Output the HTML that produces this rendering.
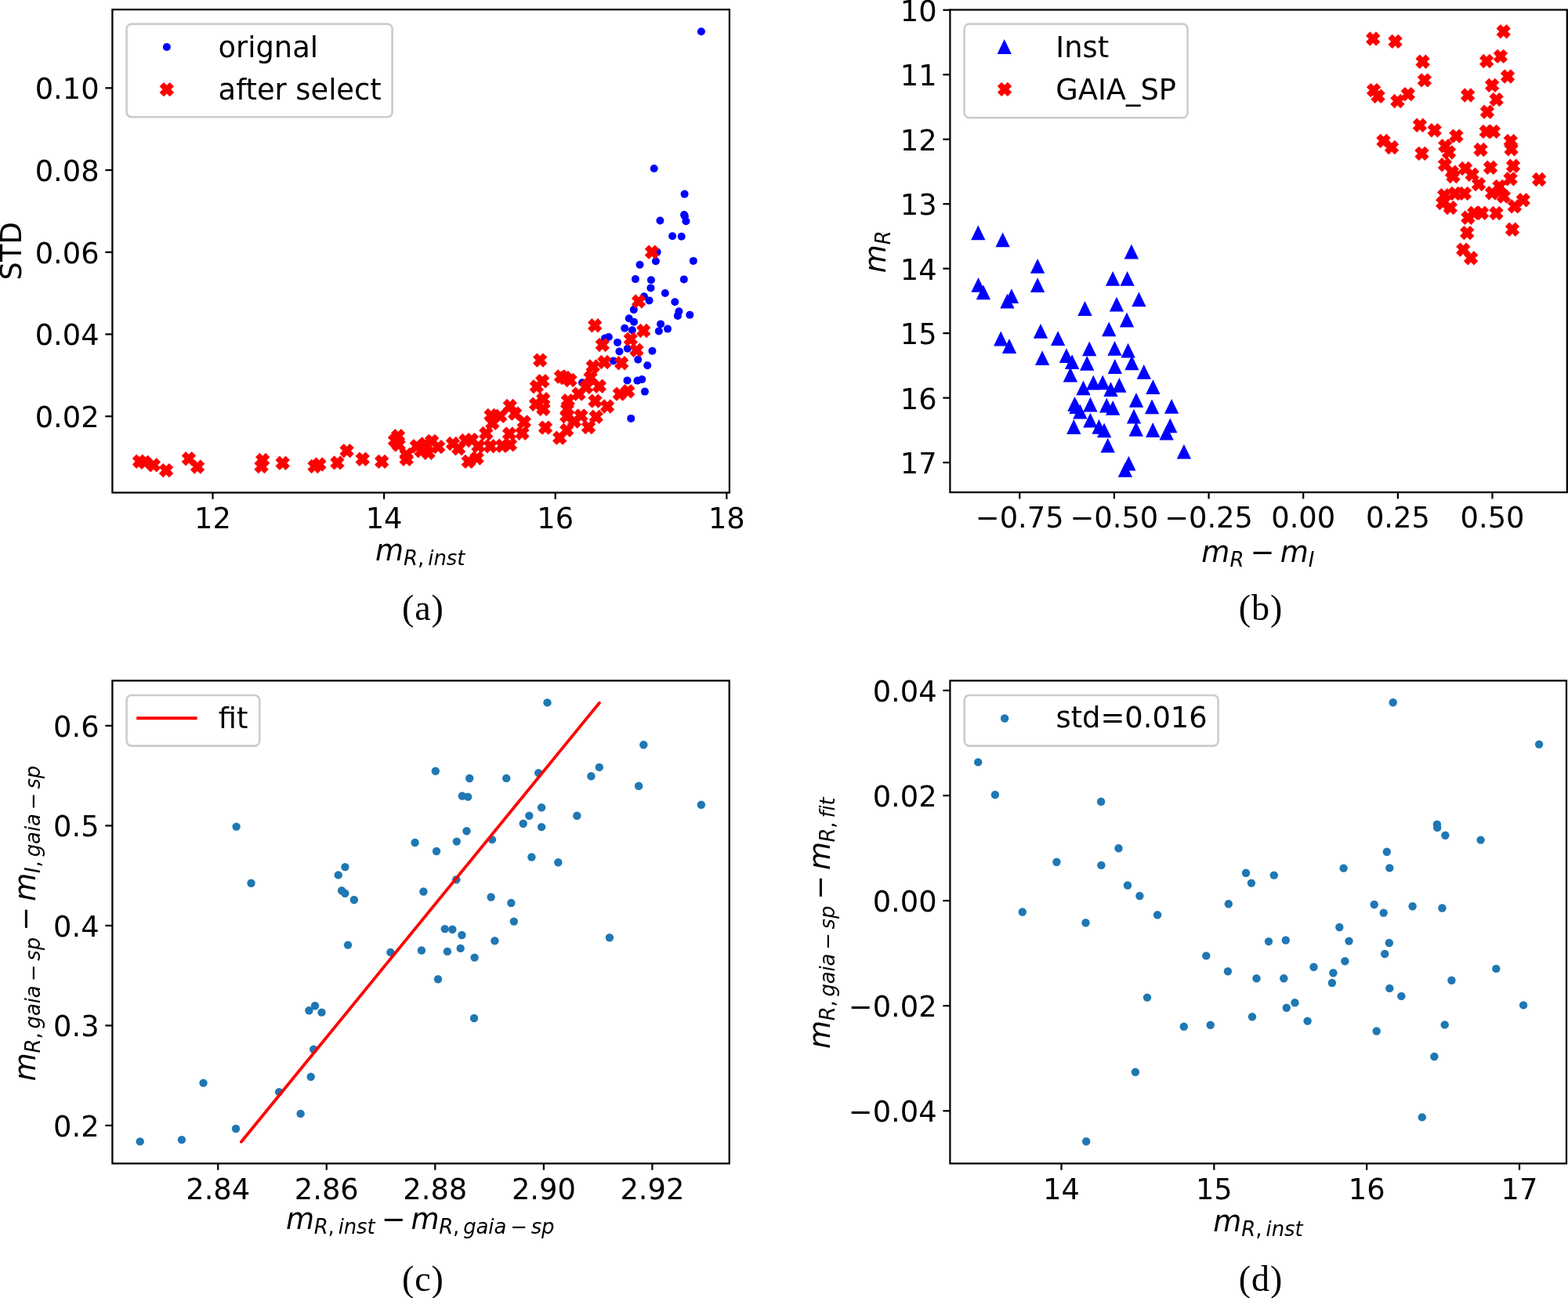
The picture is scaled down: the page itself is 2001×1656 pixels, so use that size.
<!DOCTYPE html>
<html><head><meta charset="utf-8"><title>figure</title>
<style>html,body{margin:0;padding:0;background:#fff}svg{display:block}</style></head>
<body><svg xmlns="http://www.w3.org/2000/svg" width="2001" height="1656" viewBox="0 0 2001 1656">
<rect x="0" y="0" width="2001" height="1656" fill="#fff"/>
<circle cx="894.90" cy="40.20" r="5.0" fill="#0000ff"/><circle cx="834.70" cy="215.00" r="5.0" fill="#0000ff"/><circle cx="873.60" cy="247.60" r="5.0" fill="#0000ff"/><circle cx="873.10" cy="274.00" r="5.0" fill="#0000ff"/><circle cx="873.90" cy="275.70" r="5.0" fill="#0000ff"/><circle cx="875.40" cy="282.20" r="5.0" fill="#0000ff"/><circle cx="842.40" cy="281.50" r="5.0" fill="#0000ff"/><circle cx="858.10" cy="301.20" r="5.0" fill="#0000ff"/><circle cx="869.70" cy="301.70" r="5.0" fill="#0000ff"/><circle cx="838.60" cy="321.60" r="5.0" fill="#0000ff"/><circle cx="836.90" cy="333.20" r="5.0" fill="#0000ff"/><circle cx="884.80" cy="332.90" r="5.0" fill="#0000ff"/><circle cx="816.50" cy="337.70" r="5.0" fill="#0000ff"/><circle cx="810.90" cy="356.10" r="5.0" fill="#0000ff"/><circle cx="830.90" cy="357.20" r="5.0" fill="#0000ff"/><circle cx="872.80" cy="356.40" r="5.0" fill="#0000ff"/><circle cx="830.40" cy="367.40" r="5.0" fill="#0000ff"/><circle cx="848.80" cy="374.00" r="5.0" fill="#0000ff"/><circle cx="821.90" cy="378.20" r="5.0" fill="#0000ff"/><circle cx="828.50" cy="383.40" r="5.0" fill="#0000ff"/><circle cx="861.30" cy="385.20" r="5.0" fill="#0000ff"/><circle cx="808.80" cy="395.10" r="5.0" fill="#0000ff"/><circle cx="866.40" cy="397.30" r="5.0" fill="#0000ff"/><circle cx="864.90" cy="402.90" r="5.0" fill="#0000ff"/><circle cx="880.30" cy="401.80" r="5.0" fill="#0000ff"/><circle cx="802.70" cy="406.30" r="5.0" fill="#0000ff"/><circle cx="809.00" cy="410.70" r="5.0" fill="#0000ff"/><circle cx="843.10" cy="413.40" r="5.0" fill="#0000ff"/><circle cx="797.20" cy="418.80" r="5.0" fill="#0000ff"/><circle cx="806.80" cy="421.20" r="5.0" fill="#0000ff"/><circle cx="840.80" cy="422.40" r="5.0" fill="#0000ff"/><circle cx="852.00" cy="419.60" r="5.0" fill="#0000ff"/><circle cx="776.80" cy="430.00" r="5.0" fill="#0000ff"/><circle cx="772.00" cy="431.60" r="5.0" fill="#0000ff"/><circle cx="788.00" cy="436.90" r="5.0" fill="#0000ff"/><circle cx="790.40" cy="448.40" r="5.0" fill="#0000ff"/><circle cx="800.80" cy="444.80" r="5.0" fill="#0000ff"/><circle cx="832.40" cy="447.80" r="5.0" fill="#0000ff"/><circle cx="814.20" cy="458.80" r="5.0" fill="#0000ff"/><circle cx="826.20" cy="466.20" r="5.0" fill="#0000ff"/><circle cx="782.80" cy="460.40" r="5.0" fill="#0000ff"/><circle cx="800.50" cy="485.40" r="5.0" fill="#0000ff"/><circle cx="813.40" cy="485.60" r="5.0" fill="#0000ff"/><circle cx="819.20" cy="484.00" r="5.0" fill="#0000ff"/><circle cx="822.90" cy="499.60" r="5.0" fill="#0000ff"/><circle cx="743.00" cy="488.30" r="5.0" fill="#0000ff"/><circle cx="805.20" cy="533.90" r="5.0" fill="#0000ff"/>
<path fill="#ff0000" d="M181.82 579.51 L187.19 584.88 L183.37 588.70 L187.19 592.52 L181.82 597.89 L178.00 594.07 L174.18 597.89 L168.81 592.52 L172.63 588.70 L168.81 584.88 L174.18 579.51 L178.00 583.33ZM188.62 580.71 L193.99 586.08 L190.17 589.90 L193.99 593.72 L188.62 599.09 L184.80 595.27 L180.98 599.09 L175.61 593.72 L179.43 589.90 L175.61 586.08 L180.98 580.71 L184.80 584.53ZM199.72 584.11 L205.09 589.48 L201.27 593.30 L205.09 597.12 L199.72 602.49 L195.90 598.67 L192.08 602.49 L186.71 597.12 L190.53 593.30 L186.71 589.48 L192.08 584.11 L195.90 587.93ZM215.82 590.91 L221.19 596.28 L217.37 600.10 L221.19 603.92 L215.82 609.29 L212.00 605.47 L208.18 609.29 L202.81 603.92 L206.63 600.10 L202.81 596.28 L208.18 590.91 L212.00 594.73ZM244.72 576.01 L250.09 581.38 L246.27 585.20 L250.09 589.02 L244.72 594.39 L240.90 590.57 L237.08 594.39 L231.71 589.02 L235.53 585.20 L231.71 581.38 L237.08 576.01 L240.90 579.83ZM255.82 586.31 L261.19 591.68 L257.37 595.50 L261.19 599.32 L255.82 604.69 L252.00 600.87 L248.18 604.69 L242.81 599.32 L246.63 595.50 L242.81 591.68 L248.18 586.31 L252.00 590.13ZM339.02 577.81 L344.39 583.18 L340.57 587.00 L344.39 590.82 L339.02 596.19 L335.20 592.37 L331.38 596.19 L326.01 590.82 L329.83 587.00 L326.01 583.18 L331.38 577.81 L335.20 581.63ZM337.32 585.81 L342.69 591.18 L338.87 595.00 L342.69 598.82 L337.32 604.19 L333.50 600.37 L329.68 604.19 L324.31 598.82 L328.13 595.00 L324.31 591.18 L329.68 585.81 L333.50 589.63ZM364.52 581.61 L369.89 586.98 L366.07 590.80 L369.89 594.62 L364.52 599.99 L360.70 596.17 L356.88 599.99 L351.51 594.62 L355.33 590.80 L351.51 586.98 L356.88 581.61 L360.70 585.43ZM405.32 585.81 L410.69 591.18 L406.87 595.00 L410.69 598.82 L405.32 604.19 L401.50 600.37 L397.68 604.19 L392.31 598.82 L396.13 595.00 L392.31 591.18 L397.68 585.81 L401.50 589.63ZM411.22 583.31 L416.59 588.68 L412.77 592.50 L416.59 596.32 L411.22 601.69 L407.40 597.87 L403.58 601.69 L398.21 596.32 L402.03 592.50 L398.21 588.68 L403.58 583.31 L407.40 587.13ZM434.22 581.21 L439.59 586.58 L435.77 590.40 L439.59 594.22 L434.22 599.59 L430.40 595.77 L426.58 599.59 L421.21 594.22 L425.03 590.40 L421.21 586.58 L426.58 581.21 L430.40 585.03ZM446.42 565.91 L451.79 571.28 L447.97 575.10 L451.79 578.92 L446.42 584.29 L442.60 580.47 L438.78 584.29 L433.41 578.92 L437.23 575.10 L433.41 571.28 L438.78 565.91 L442.60 569.73ZM466.52 576.51 L471.89 581.88 L468.07 585.70 L471.89 589.52 L466.52 594.89 L462.70 591.07 L458.88 594.89 L453.51 589.52 L457.33 585.70 L453.51 581.88 L458.88 576.51 L462.70 580.33ZM491.02 579.71 L496.39 585.08 L492.57 588.90 L496.39 592.72 L491.02 598.09 L487.20 594.27 L483.38 598.09 L478.01 592.72 L481.83 588.90 L478.01 585.08 L483.38 579.71 L487.20 583.53ZM511.82 547.11 L517.19 552.48 L513.37 556.30 L517.19 560.12 L511.82 565.49 L508.00 561.67 L504.18 565.49 L498.81 560.12 L502.63 556.30 L498.81 552.48 L504.18 547.11 L508.00 550.93ZM507.82 552.81 L513.19 558.18 L509.37 562.00 L513.19 565.82 L507.82 571.19 L504.00 567.37 L500.18 571.19 L494.81 565.82 L498.63 562.00 L494.81 558.18 L500.18 552.81 L504.00 556.63ZM512.42 558.41 L517.79 563.78 L513.97 567.60 L517.79 571.42 L512.42 576.79 L508.60 572.97 L504.78 576.79 L499.41 571.42 L503.23 567.60 L499.41 563.78 L504.78 558.41 L508.60 562.23ZM522.52 570.81 L527.89 576.18 L524.07 580.00 L527.89 583.82 L522.52 589.19 L518.70 585.37 L514.88 589.19 L509.51 583.82 L513.33 580.00 L509.51 576.18 L514.88 570.81 L518.70 574.63ZM522.52 576.61 L527.89 581.98 L524.07 585.80 L527.89 589.62 L522.52 594.99 L518.70 591.17 L514.88 594.99 L509.51 589.62 L513.33 585.80 L509.51 581.98 L514.88 576.61 L518.70 580.43ZM535.52 560.01 L540.89 565.38 L537.07 569.20 L540.89 573.02 L535.52 578.39 L531.70 574.57 L527.88 578.39 L522.51 573.02 L526.33 569.20 L522.51 565.38 L527.88 560.01 L531.70 563.83ZM541.32 566.11 L546.69 571.48 L542.87 575.30 L546.69 579.12 L541.32 584.49 L537.50 580.67 L533.68 584.49 L528.31 579.12 L532.13 575.30 L528.31 571.48 L533.68 566.11 L537.50 569.93ZM546.32 557.31 L551.69 562.68 L547.87 566.50 L551.69 570.32 L546.32 575.69 L542.50 571.87 L538.68 575.69 L533.31 570.32 L537.13 566.50 L533.31 562.68 L538.68 557.31 L542.50 561.13ZM550.42 568.51 L555.79 573.88 L551.97 577.70 L555.79 581.52 L550.42 586.89 L546.60 583.07 L542.78 586.89 L537.41 581.52 L541.23 577.70 L537.41 573.88 L542.78 568.51 L546.60 572.33ZM554.92 553.71 L560.29 559.08 L556.47 562.90 L560.29 566.72 L554.92 572.09 L551.10 568.27 L547.28 572.09 L541.91 566.72 L545.73 562.90 L541.91 559.08 L547.28 553.71 L551.10 557.53ZM563.02 560.91 L568.39 566.28 L564.57 570.10 L568.39 573.92 L563.02 579.29 L559.20 575.47 L555.38 579.29 L550.01 573.92 L553.83 570.10 L550.01 566.28 L555.38 560.91 L559.20 564.73ZM581.82 556.81 L587.19 562.18 L583.37 566.00 L587.19 569.82 L581.82 575.19 L578.00 571.37 L574.18 575.19 L568.81 569.82 L572.63 566.00 L568.81 562.18 L574.18 556.81 L578.00 560.63ZM589.02 563.11 L594.39 568.48 L590.57 572.30 L594.39 576.12 L589.02 581.49 L585.20 577.67 L581.38 581.49 L576.01 576.12 L579.83 572.30 L576.01 568.48 L581.38 563.11 L585.20 566.93ZM598.02 552.81 L603.39 558.18 L599.57 562.00 L603.39 565.82 L598.02 571.19 L594.20 567.37 L590.38 571.19 L585.01 565.82 L588.83 562.00 L585.01 558.18 L590.38 552.81 L594.20 556.63ZM605.72 551.91 L611.09 557.28 L607.27 561.10 L611.09 564.92 L605.72 570.29 L601.90 566.47 L598.08 570.29 L592.71 564.92 L596.53 561.10 L592.71 557.28 L598.08 551.91 L601.90 555.73ZM601.62 579.71 L606.99 585.08 L603.17 588.90 L606.99 592.72 L601.62 598.09 L597.80 594.27 L593.98 598.09 L588.61 592.72 L592.43 588.90 L588.61 585.08 L593.98 579.71 L597.80 583.53ZM612.42 575.31 L617.79 580.68 L613.97 584.50 L617.79 588.32 L612.42 593.69 L608.60 589.87 L604.78 593.69 L599.41 588.32 L603.23 584.50 L599.41 580.68 L604.78 575.31 L608.60 579.13ZM614.22 560.01 L619.59 565.38 L615.77 569.20 L619.59 573.02 L614.22 578.39 L610.40 574.57 L606.58 578.39 L601.21 573.02 L605.03 569.20 L601.21 565.38 L606.58 560.01 L610.40 563.83ZM624.12 543.81 L629.49 549.18 L625.67 553.00 L629.49 556.82 L624.12 562.19 L620.30 558.37 L616.48 562.19 L611.11 556.82 L614.93 553.00 L611.11 549.18 L616.48 543.81 L620.30 547.63ZM632.22 530.71 L637.59 536.08 L633.77 539.90 L637.59 543.72 L632.22 549.09 L628.40 545.27 L624.58 549.09 L619.21 543.72 L623.03 539.90 L619.21 536.08 L624.58 530.71 L628.40 534.53ZM630.42 520.81 L635.79 526.18 L631.97 530.00 L635.79 533.82 L630.42 539.19 L626.60 535.37 L622.78 539.19 L617.41 533.82 L621.23 530.00 L617.41 526.18 L622.78 520.81 L626.60 524.63ZM642.12 521.71 L647.49 527.08 L643.67 530.90 L647.49 534.72 L642.12 540.09 L638.30 536.27 L634.48 540.09 L629.11 534.72 L632.93 530.90 L629.11 527.08 L634.48 521.71 L638.30 525.53ZM654.62 508.81 L659.99 514.18 L656.17 518.00 L659.99 521.82 L654.62 527.19 L650.80 523.37 L646.98 527.19 L641.61 521.82 L645.43 518.00 L641.61 514.18 L646.98 508.81 L650.80 512.63ZM661.02 518.41 L666.39 523.78 L662.57 527.60 L666.39 531.42 L661.02 536.79 L657.20 532.97 L653.38 536.79 L648.01 531.42 L651.83 527.60 L648.01 523.78 L653.38 518.41 L657.20 522.23ZM653.82 544.31 L659.19 549.68 L655.37 553.50 L659.19 557.32 L653.82 562.69 L650.00 558.87 L646.18 562.69 L640.81 557.32 L644.63 553.50 L640.81 549.68 L646.18 544.31 L650.00 548.13ZM629.52 560.01 L634.89 565.38 L631.07 569.20 L634.89 573.02 L629.52 578.39 L625.70 574.57 L621.88 578.39 L616.51 573.02 L620.33 569.20 L616.51 565.38 L621.88 560.01 L625.70 563.83ZM644.82 559.51 L650.19 564.88 L646.37 568.70 L650.19 572.52 L644.82 577.89 L641.00 574.07 L637.18 577.89 L631.81 572.52 L635.63 568.70 L631.81 564.88 L637.18 559.51 L641.00 563.33ZM654.72 558.21 L660.09 563.58 L656.27 567.40 L660.09 571.22 L654.72 576.59 L650.90 572.77 L647.08 576.59 L641.71 571.22 L645.53 567.40 L641.71 563.58 L647.08 558.21 L650.90 562.03ZM670.22 543.51 L675.59 548.88 L671.77 552.70 L675.59 556.52 L670.22 561.89 L666.40 558.07 L662.58 561.89 L657.21 556.52 L661.03 552.70 L657.21 548.88 L662.58 543.51 L666.40 547.33ZM672.62 529.21 L677.99 534.58 L674.17 538.40 L677.99 542.22 L672.62 547.59 L668.80 543.77 L664.98 547.59 L659.61 542.22 L663.43 538.40 L659.61 534.58 L664.98 529.21 L668.80 533.03ZM693.02 450.41 L698.39 455.78 L694.57 459.60 L698.39 463.42 L693.02 468.79 L689.20 464.97 L685.38 468.79 L680.01 463.42 L683.83 459.60 L680.01 455.78 L685.38 450.41 L689.20 454.23ZM696.02 477.01 L701.39 482.38 L697.57 486.20 L701.39 490.02 L696.02 495.39 L692.20 491.57 L688.38 495.39 L683.01 490.02 L686.83 486.20 L683.01 482.38 L688.38 477.01 L692.20 480.83ZM688.62 484.01 L693.99 489.38 L690.17 493.20 L693.99 497.02 L688.62 502.39 L684.80 498.57 L680.98 502.39 L675.61 497.02 L679.43 493.20 L675.61 489.38 L680.98 484.01 L684.80 487.83ZM697.12 500.11 L702.49 505.48 L698.67 509.30 L702.49 513.12 L697.12 518.49 L693.30 514.67 L689.48 518.49 L684.11 513.12 L687.93 509.30 L684.11 505.48 L689.48 500.11 L693.30 503.93ZM687.82 506.51 L693.19 511.88 L689.37 515.70 L693.19 519.52 L687.82 524.89 L684.00 521.07 L680.18 524.89 L674.81 519.52 L678.63 515.70 L674.81 511.88 L680.18 506.51 L684.00 510.33ZM697.22 512.61 L702.59 517.98 L698.77 521.80 L702.59 525.62 L697.22 530.99 L693.40 527.17 L689.58 530.99 L684.21 525.62 L688.03 521.80 L684.21 517.98 L689.58 512.61 L693.40 516.43ZM699.82 536.41 L705.19 541.78 L701.37 545.60 L705.19 549.42 L699.82 554.79 L696.00 550.97 L692.18 554.79 L686.81 549.42 L690.63 545.60 L686.81 541.78 L692.18 536.41 L696.00 540.23ZM719.82 471.31 L725.19 476.68 L721.37 480.50 L725.19 484.32 L719.82 489.69 L716.00 485.87 L712.18 489.69 L706.81 484.32 L710.63 480.50 L706.81 476.68 L712.18 471.31 L716.00 475.13ZM724.82 472.81 L730.19 478.18 L726.37 482.00 L730.19 485.82 L724.82 491.19 L721.00 487.37 L717.18 491.19 L711.81 485.82 L715.63 482.00 L711.81 478.18 L717.18 472.81 L721.00 476.63ZM731.32 475.81 L736.69 481.18 L732.87 485.00 L736.69 488.82 L731.32 494.19 L727.50 490.37 L723.68 494.19 L718.31 488.82 L722.13 485.00 L718.31 481.18 L723.68 475.81 L727.50 479.63ZM742.22 493.41 L747.59 498.78 L743.77 502.60 L747.59 506.42 L742.22 511.79 L738.40 507.97 L734.58 511.79 L729.21 506.42 L733.03 502.60 L729.21 498.78 L734.58 493.41 L738.40 497.23ZM728.62 502.01 L733.99 507.38 L730.17 511.20 L733.99 515.02 L728.62 520.39 L724.80 516.57 L720.98 520.39 L715.61 515.02 L719.43 511.20 L715.61 507.38 L720.98 502.01 L724.80 505.83ZM727.82 512.81 L733.19 518.18 L729.37 522.00 L733.19 525.82 L727.82 531.19 L724.00 527.37 L720.18 531.19 L714.81 525.82 L718.63 522.00 L714.81 518.18 L720.18 512.81 L724.00 516.63ZM727.02 522.01 L732.39 527.38 L728.57 531.20 L732.39 535.02 L727.02 540.39 L723.20 536.57 L719.38 540.39 L714.01 535.02 L717.83 531.20 L714.01 527.38 L719.38 522.01 L723.20 525.83ZM745.22 521.21 L750.59 526.58 L746.77 530.40 L750.59 534.22 L745.22 539.59 L741.40 535.77 L737.58 539.59 L732.21 534.22 L736.03 530.40 L732.21 526.58 L737.58 521.21 L741.40 525.03ZM736.62 528.41 L741.99 533.78 L738.17 537.60 L741.99 541.42 L736.62 546.79 L732.80 542.97 L728.98 546.79 L723.61 541.42 L727.43 537.60 L723.61 533.78 L728.98 528.41 L732.80 532.23ZM764.52 522.61 L769.89 527.98 L766.07 531.80 L769.89 535.62 L764.52 540.99 L760.70 537.17 L756.88 540.99 L751.51 535.62 L755.33 531.80 L751.51 527.98 L756.88 522.61 L760.70 526.43ZM754.82 535.81 L760.19 541.18 L756.37 545.00 L760.19 548.82 L754.82 554.19 L751.00 550.37 L747.18 554.19 L741.81 548.82 L745.63 545.00 L741.81 541.18 L747.18 535.81 L751.00 539.63ZM727.02 539.61 L732.39 544.98 L728.57 548.80 L732.39 552.62 L727.02 557.99 L723.20 554.17 L719.38 557.99 L714.01 552.62 L717.83 548.80 L714.01 544.98 L719.38 539.61 L723.20 543.43ZM718.02 549.41 L723.39 554.78 L719.57 558.60 L723.39 562.42 L718.02 567.79 L714.20 563.97 L710.38 567.79 L705.01 562.42 L708.83 558.60 L705.01 554.78 L710.38 549.41 L714.20 553.23ZM763.02 406.11 L768.39 411.48 L764.57 415.30 L768.39 419.12 L763.02 424.49 L759.20 420.67 L755.38 424.49 L750.01 419.12 L753.83 415.30 L750.01 411.48 L755.38 406.11 L759.20 409.93ZM772.62 430.81 L777.99 436.18 L774.17 440.00 L777.99 443.82 L772.62 449.19 L768.80 445.37 L764.98 449.19 L759.61 443.82 L763.43 440.00 L759.61 436.18 L764.98 430.81 L768.80 434.63ZM775.02 452.81 L780.39 458.18 L776.57 462.00 L780.39 465.82 L775.02 471.19 L771.20 467.37 L767.38 471.19 L762.01 465.82 L765.83 462.00 L762.01 458.18 L767.38 452.81 L771.20 456.63ZM760.52 458.31 L765.89 463.68 L762.07 467.50 L765.89 471.32 L760.52 476.69 L756.70 472.87 L752.88 476.69 L747.51 471.32 L751.33 467.50 L747.51 463.68 L752.88 458.31 L756.70 462.13ZM757.32 472.61 L762.69 477.98 L758.87 481.80 L762.69 485.62 L757.32 490.99 L753.50 487.17 L749.68 490.99 L744.31 485.62 L748.13 481.80 L744.31 477.98 L749.68 472.61 L753.50 476.43ZM768.62 483.61 L773.99 488.98 L770.17 492.80 L773.99 496.62 L768.62 501.99 L764.80 498.17 L760.98 501.99 L755.61 496.62 L759.43 492.80 L755.61 488.98 L760.98 483.61 L764.80 487.43ZM751.82 484.81 L757.19 490.18 L753.37 494.00 L757.19 497.82 L751.82 503.19 L748.00 499.37 L744.18 503.19 L738.81 497.82 L742.63 494.00 L738.81 490.18 L744.18 484.81 L748.00 488.63ZM763.32 502.41 L768.69 507.78 L764.87 511.60 L768.69 515.42 L763.32 520.79 L759.50 516.97 L755.68 520.79 L750.31 515.42 L754.13 511.60 L750.31 507.78 L755.68 502.41 L759.50 506.23ZM778.82 509.31 L784.19 514.68 L780.37 518.50 L784.19 522.32 L778.82 527.69 L775.00 523.87 L771.18 527.69 L765.81 522.32 L769.63 518.50 L765.81 514.68 L771.18 509.31 L775.00 513.13ZM794.62 493.41 L799.99 498.78 L796.17 502.60 L799.99 506.42 L794.62 511.79 L790.80 507.97 L786.98 511.79 L781.61 506.42 L785.43 502.60 L781.61 498.78 L786.98 493.41 L790.80 497.23ZM805.02 490.01 L810.39 495.38 L806.57 499.20 L810.39 503.02 L805.02 508.39 L801.20 504.57 L797.38 508.39 L792.01 503.02 L795.83 499.20 L792.01 495.38 L797.38 490.01 L801.20 493.83ZM797.02 454.01 L802.39 459.38 L798.57 463.20 L802.39 467.02 L797.02 472.39 L793.20 468.57 L789.38 472.39 L784.01 467.02 L787.83 463.20 L784.01 459.38 L789.38 454.01 L793.20 457.83ZM808.62 423.61 L813.99 428.98 L810.17 432.80 L813.99 436.62 L808.62 441.99 L804.80 438.17 L800.98 441.99 L795.61 436.62 L799.43 432.80 L795.61 428.98 L800.98 423.61 L804.80 427.43ZM816.22 437.61 L821.59 442.98 L817.77 446.80 L821.59 450.62 L816.22 455.99 L812.40 452.17 L808.58 455.99 L803.21 450.62 L807.03 446.80 L803.21 442.98 L808.58 437.61 L812.40 441.43ZM825.02 412.81 L830.39 418.18 L826.57 422.00 L830.39 425.82 L825.02 431.19 L821.20 427.37 L817.38 431.19 L812.01 425.82 L815.83 422.00 L812.01 418.18 L817.38 412.81 L821.20 416.63ZM818.82 375.31 L824.19 380.68 L820.37 384.50 L824.19 388.32 L818.82 393.69 L815.00 389.87 L811.18 393.69 L805.81 388.32 L809.63 384.50 L805.81 380.68 L811.18 375.31 L815.00 379.13ZM835.72 312.41 L841.09 317.78 L837.27 321.60 L841.09 325.42 L835.72 330.79 L831.90 326.97 L828.08 330.79 L822.71 325.42 L826.53 321.60 L822.71 317.78 L828.08 312.41 L831.90 316.23Z"/>
<rect x="143.40" y="12.20" width="787.50" height="616.30" fill="none" stroke="#000" stroke-width="2.25" stroke-linejoin="miter"/>
<line x1="271.50" y1="628.50" x2="271.50" y2="636.80" stroke="#000" stroke-width="2.25"/>
<text x="271.50" y="673.60" font-family="'DejaVu Sans', 'Liberation Sans', sans-serif" font-size="36.8" text-anchor="middle">12</text>
<line x1="490.10" y1="628.50" x2="490.10" y2="636.80" stroke="#000" stroke-width="2.25"/>
<text x="490.10" y="673.60" font-family="'DejaVu Sans', 'Liberation Sans', sans-serif" font-size="36.8" text-anchor="middle">14</text>
<line x1="708.70" y1="628.50" x2="708.70" y2="636.80" stroke="#000" stroke-width="2.25"/>
<text x="708.70" y="673.60" font-family="'DejaVu Sans', 'Liberation Sans', sans-serif" font-size="36.8" text-anchor="middle">16</text>
<line x1="927.30" y1="628.50" x2="927.30" y2="636.80" stroke="#000" stroke-width="2.25"/>
<text x="927.30" y="673.60" font-family="'DejaVu Sans', 'Liberation Sans', sans-serif" font-size="36.8" text-anchor="middle">18</text>
<line x1="134.40" y1="531.18" x2="143.40" y2="531.18" stroke="#000" stroke-width="2.25"/>
<text x="126.60" y="545.08" font-family="'DejaVu Sans', 'Liberation Sans', sans-serif" font-size="36.8" text-anchor="end">0.02</text>
<line x1="134.40" y1="426.46" x2="143.40" y2="426.46" stroke="#000" stroke-width="2.25"/>
<text x="126.60" y="440.36" font-family="'DejaVu Sans', 'Liberation Sans', sans-serif" font-size="36.8" text-anchor="end">0.04</text>
<line x1="134.40" y1="321.74" x2="143.40" y2="321.74" stroke="#000" stroke-width="2.25"/>
<text x="126.60" y="335.64" font-family="'DejaVu Sans', 'Liberation Sans', sans-serif" font-size="36.8" text-anchor="end">0.06</text>
<line x1="134.40" y1="217.02" x2="143.40" y2="217.02" stroke="#000" stroke-width="2.25"/>
<text x="126.60" y="230.92" font-family="'DejaVu Sans', 'Liberation Sans', sans-serif" font-size="36.8" text-anchor="end">0.08</text>
<line x1="134.40" y1="112.30" x2="143.40" y2="112.30" stroke="#000" stroke-width="2.25"/>
<text x="126.60" y="126.20" font-family="'DejaVu Sans', 'Liberation Sans', sans-serif" font-size="36.8" text-anchor="end">0.10</text>
<text transform="translate(478.90,715.10)" font-family="'DejaVu Sans', 'Liberation Sans', sans-serif"><tspan x="0.000" y="0.000" font-size="37" font-style="oblique">m</tspan><tspan x="36.042" y="6.070" font-size="25.9" font-style="oblique">R</tspan><tspan x="67.317" y="6.070" font-size="25.9" font-style="oblique">i</tspan><tspan x="74.513" y="6.070" font-size="25.9" font-style="oblique">n</tspan><tspan x="90.928" y="6.070" font-size="25.9" font-style="oblique">s</tspan><tspan x="104.422" y="6.070" font-size="25.9" font-style="oblique">t</tspan><tspan x="54.038" y="6.070" font-size="25.9">,</tspan></text>
<text transform="translate(27.2,320.35) rotate(-90)" font-family="'DejaVu Sans', 'Liberation Sans', sans-serif" font-size="36.8" text-anchor="middle">STD</text>
<rect x="161.60" y="30.60" width="339.00" height="118.70" rx="6.2" ry="6.2" fill="#fff" fill-opacity="0.8" stroke="#cccccc" stroke-width="2.6"/>
<circle cx="212.85" cy="60.00" r="5.0" fill="#0000ff"/>
<path fill="#ff0000" d="M216.62 104.91 L221.99 110.28 L218.17 114.10 L221.99 117.92 L216.62 123.29 L212.80 119.47 L208.98 123.29 L203.61 117.92 L207.43 114.10 L203.61 110.28 L208.98 104.91 L212.80 108.73Z"/>
<text x="278.60" y="72.90" font-family="'DejaVu Sans', 'Liberation Sans', sans-serif" font-size="36.8">orignal</text>
<text x="278.60" y="126.55" font-family="'DejaVu Sans', 'Liberation Sans', sans-serif" font-size="36.8">after select</text>
<path fill="#0000ff" d="M1248.30 287.50 L1257.45 306.30 L1239.15 306.30ZM1279.60 296.50 L1288.75 315.30 L1270.45 315.30ZM1324.10 330.00 L1333.25 348.80 L1314.95 348.80ZM1248.50 353.90 L1257.65 372.70 L1239.35 372.70ZM1254.90 363.50 L1264.05 382.30 L1245.75 382.30ZM1324.10 354.30 L1333.25 373.10 L1314.95 373.10ZM1290.90 368.20 L1300.05 387.00 L1281.75 387.00ZM1285.40 374.80 L1294.55 393.60 L1276.25 393.60ZM1384.50 384.10 L1393.65 402.90 L1375.35 402.90ZM1328.00 413.00 L1337.15 431.80 L1318.85 431.80ZM1277.20 422.60 L1286.35 441.40 L1268.05 441.40ZM1350.10 422.20 L1359.25 441.00 L1340.95 441.00ZM1288.00 432.10 L1297.15 450.90 L1278.85 450.90ZM1390.20 435.40 L1399.35 454.20 L1381.05 454.20ZM1330.10 447.20 L1339.25 466.00 L1320.95 466.00ZM1360.90 444.20 L1370.05 463.00 L1351.75 463.00ZM1368.10 452.20 L1377.25 471.00 L1358.95 471.00ZM1387.20 453.90 L1396.35 472.70 L1378.05 472.70ZM1422.50 434.90 L1431.65 453.70 L1413.35 453.70ZM1439.60 437.70 L1448.75 456.50 L1430.45 456.50ZM1422.80 458.10 L1431.95 476.90 L1413.65 476.90ZM1444.40 453.40 L1453.55 472.20 L1435.25 472.20ZM1365.90 468.60 L1375.05 487.40 L1356.75 487.40ZM1382.50 485.50 L1391.65 504.30 L1373.35 504.30ZM1395.30 478.60 L1404.45 497.40 L1386.15 497.40ZM1407.20 478.50 L1416.35 497.30 L1398.05 497.30ZM1417.50 487.30 L1426.65 506.10 L1408.35 506.10ZM1428.40 482.00 L1437.55 500.80 L1419.25 500.80ZM1371.40 506.00 L1380.55 524.80 L1362.25 524.80ZM1373.50 509.20 L1382.65 528.00 L1364.35 528.00ZM1378.40 515.70 L1387.55 534.50 L1369.25 534.50ZM1391.40 506.70 L1400.55 525.50 L1382.25 525.50ZM1412.20 507.70 L1421.35 526.50 L1403.05 526.50ZM1420.20 511.00 L1429.35 529.80 L1411.05 529.80ZM1391.40 526.70 L1400.55 545.50 L1382.25 545.50ZM1370.30 535.10 L1379.45 553.90 L1361.15 553.90ZM1402.50 535.00 L1411.65 553.80 L1393.35 553.80ZM1409.10 539.50 L1418.25 558.30 L1399.95 558.30ZM1413.70 558.70 L1422.85 577.50 L1404.55 577.50ZM1443.90 311.60 L1453.05 330.40 L1434.75 330.40ZM1420.10 345.90 L1429.25 364.70 L1410.95 364.70ZM1438.60 345.90 L1447.75 364.70 L1429.45 364.70ZM1453.40 372.40 L1462.55 391.20 L1444.25 391.20ZM1425.00 378.80 L1434.15 397.60 L1415.85 397.60ZM1438.00 398.60 L1447.15 417.40 L1428.85 417.40ZM1415.20 410.40 L1424.35 429.20 L1406.05 429.20ZM1459.80 464.90 L1468.95 483.70 L1450.65 483.70ZM1471.40 484.20 L1480.55 503.00 L1462.25 503.00ZM1450.00 501.00 L1459.15 519.80 L1440.85 519.80ZM1470.10 509.40 L1479.25 528.20 L1460.95 528.20ZM1495.10 509.00 L1504.25 527.80 L1485.95 527.80ZM1447.00 521.70 L1456.15 540.50 L1437.85 540.50ZM1449.80 538.00 L1458.95 556.80 L1440.65 556.80ZM1471.20 539.10 L1480.35 557.90 L1462.05 557.90ZM1493.30 533.40 L1502.45 552.20 L1484.15 552.20ZM1488.60 542.70 L1497.75 561.50 L1479.45 561.50ZM1510.90 566.80 L1520.05 585.60 L1501.75 585.60ZM1440.40 581.80 L1449.55 600.60 L1431.25 600.60ZM1435.90 589.90 L1445.05 608.70 L1426.75 608.70Z"/>
<path fill="#ff0000" d="M1756.02 40.31 L1761.39 45.68 L1757.57 49.50 L1761.39 53.32 L1756.02 58.69 L1752.20 54.87 L1748.38 58.69 L1743.01 53.32 L1746.83 49.50 L1743.01 45.68 L1748.38 40.31 L1752.20 44.13ZM1784.32 43.71 L1789.69 49.08 L1785.87 52.90 L1789.69 56.72 L1784.32 62.09 L1780.50 58.27 L1776.68 62.09 L1771.31 56.72 L1775.13 52.90 L1771.31 49.08 L1776.68 43.71 L1780.50 47.53ZM1819.42 69.51 L1824.79 74.88 L1820.97 78.70 L1824.79 82.52 L1819.42 87.89 L1815.60 84.07 L1811.78 87.89 L1806.41 82.52 L1810.23 78.70 L1806.41 74.88 L1811.78 69.51 L1815.60 73.33ZM1821.72 93.21 L1827.09 98.58 L1823.27 102.40 L1827.09 106.22 L1821.72 111.59 L1817.90 107.77 L1814.08 111.59 L1808.71 106.22 L1812.53 102.40 L1808.71 98.58 L1814.08 93.21 L1817.90 97.03ZM1756.92 105.91 L1762.29 111.28 L1758.47 115.10 L1762.29 118.92 L1756.92 124.29 L1753.10 120.47 L1749.28 124.29 L1743.91 118.92 L1747.73 115.10 L1743.91 111.28 L1749.28 105.91 L1753.10 109.73ZM1762.32 113.61 L1767.69 118.98 L1763.87 122.80 L1767.69 126.62 L1762.32 131.99 L1758.50 128.17 L1754.68 131.99 L1749.31 126.62 L1753.13 122.80 L1749.31 118.98 L1754.68 113.61 L1758.50 117.43ZM1800.62 110.91 L1805.99 116.28 L1802.17 120.10 L1805.99 123.92 L1800.62 129.29 L1796.80 125.47 L1792.98 129.29 L1787.61 123.92 L1791.43 120.10 L1787.61 116.28 L1792.98 110.91 L1796.80 114.73ZM1787.22 119.81 L1792.59 125.18 L1788.77 129.00 L1792.59 132.82 L1787.22 138.19 L1783.40 134.37 L1779.58 138.19 L1774.21 132.82 L1778.03 129.00 L1774.21 125.18 L1779.58 119.81 L1783.40 123.63ZM1876.92 112.31 L1882.29 117.68 L1878.47 121.50 L1882.29 125.32 L1876.92 130.69 L1873.10 126.87 L1869.28 130.69 L1863.91 125.32 L1867.73 121.50 L1863.91 117.68 L1869.28 112.31 L1873.10 116.13ZM1815.72 150.61 L1821.09 155.98 L1817.27 159.80 L1821.09 163.62 L1815.72 168.99 L1811.90 165.17 L1808.08 168.99 L1802.71 163.62 L1806.53 159.80 L1802.71 155.98 L1808.08 150.61 L1811.90 154.43ZM1834.52 157.11 L1839.89 162.48 L1836.07 166.30 L1839.89 170.12 L1834.52 175.49 L1830.70 171.67 L1826.88 175.49 L1821.51 170.12 L1825.33 166.30 L1821.51 162.48 L1826.88 157.11 L1830.70 160.93ZM1862.22 164.41 L1867.59 169.78 L1863.77 173.60 L1867.59 177.42 L1862.22 182.79 L1858.40 178.97 L1854.58 182.79 L1849.21 177.42 L1853.03 173.60 L1849.21 169.78 L1854.58 164.41 L1858.40 168.23ZM1769.32 170.71 L1774.69 176.08 L1770.87 179.90 L1774.69 183.72 L1769.32 189.09 L1765.50 185.27 L1761.68 189.09 L1756.31 183.72 L1760.13 179.90 L1756.31 176.08 L1761.68 170.71 L1765.50 174.53ZM1779.82 178.81 L1785.19 184.18 L1781.37 188.00 L1785.19 191.82 L1779.82 197.19 L1776.00 193.37 L1772.18 197.19 L1766.81 191.82 L1770.63 188.00 L1766.81 184.18 L1772.18 178.81 L1776.00 182.63ZM1818.32 186.71 L1823.69 192.08 L1819.87 195.90 L1823.69 199.72 L1818.32 205.09 L1814.50 201.27 L1810.68 205.09 L1805.31 199.72 L1809.13 195.90 L1805.31 192.08 L1810.68 186.71 L1814.50 190.53ZM1848.12 177.01 L1853.49 182.38 L1849.67 186.20 L1853.49 190.02 L1848.12 195.39 L1844.30 191.57 L1840.48 195.39 L1835.11 190.02 L1838.93 186.20 L1835.11 182.38 L1840.48 177.01 L1844.30 180.83ZM1852.82 185.31 L1858.19 190.68 L1854.37 194.50 L1858.19 198.32 L1852.82 203.69 L1849.00 199.87 L1845.18 203.69 L1839.81 198.32 L1843.63 194.50 L1839.81 190.68 L1845.18 185.31 L1849.00 189.13ZM1847.82 201.01 L1853.19 206.38 L1849.37 210.20 L1853.19 214.02 L1847.82 219.39 L1844.00 215.57 L1840.18 219.39 L1834.81 214.02 L1838.63 210.20 L1834.81 206.38 L1840.18 201.01 L1844.00 204.83ZM1856.82 210.41 L1862.19 215.78 L1858.37 219.60 L1862.19 223.42 L1856.82 228.79 L1853.00 224.97 L1849.18 228.79 L1843.81 223.42 L1847.63 219.60 L1843.81 215.78 L1849.18 210.41 L1853.00 214.23ZM1858.32 215.81 L1863.69 221.18 L1859.87 225.00 L1863.69 228.82 L1858.32 234.19 L1854.50 230.37 L1850.68 234.19 L1845.31 228.82 L1849.13 225.00 L1845.31 221.18 L1850.68 215.81 L1854.50 219.63ZM1873.82 205.81 L1879.19 211.18 L1875.37 215.00 L1879.19 218.82 L1873.82 224.19 L1870.00 220.37 L1866.18 224.19 L1860.81 218.82 L1864.63 215.00 L1860.81 211.18 L1866.18 205.81 L1870.00 209.63ZM1882.42 213.61 L1887.79 218.98 L1883.97 222.80 L1887.79 226.62 L1882.42 231.99 L1878.60 228.17 L1874.78 231.99 L1869.41 226.62 L1873.23 222.80 L1869.41 218.98 L1874.78 213.61 L1878.60 217.43ZM1847.02 240.01 L1852.39 245.38 L1848.57 249.20 L1852.39 253.02 L1847.02 258.39 L1843.20 254.57 L1839.38 258.39 L1834.01 253.02 L1837.83 249.20 L1834.01 245.38 L1839.38 240.01 L1843.20 243.83ZM1860.62 237.71 L1865.99 243.08 L1862.17 246.90 L1865.99 250.72 L1860.62 256.09 L1856.80 252.27 L1852.98 256.09 L1847.61 250.72 L1851.43 246.90 L1847.61 243.08 L1852.98 237.71 L1856.80 241.53ZM1872.72 237.71 L1878.09 243.08 L1874.27 246.90 L1878.09 250.72 L1872.72 256.09 L1868.90 252.27 L1865.08 256.09 L1859.71 250.72 L1863.53 246.90 L1859.71 243.08 L1865.08 237.71 L1868.90 241.53ZM1845.02 249.81 L1850.39 255.18 L1846.57 259.00 L1850.39 262.82 L1845.02 268.19 L1841.20 264.37 L1837.38 268.19 L1832.01 262.82 L1835.83 259.00 L1832.01 255.18 L1837.38 249.81 L1841.20 253.63ZM1854.62 255.81 L1859.99 261.18 L1856.17 265.00 L1859.99 268.82 L1854.62 274.19 L1850.80 270.37 L1846.98 274.19 L1841.61 268.82 L1845.43 265.00 L1841.61 261.18 L1846.98 255.81 L1850.80 259.63ZM1877.22 268.51 L1882.59 273.88 L1878.77 277.70 L1882.59 281.52 L1877.22 286.89 L1873.40 283.07 L1869.58 286.89 L1864.21 281.52 L1868.03 277.70 L1864.21 273.88 L1869.58 268.51 L1873.40 272.33ZM1885.12 262.61 L1890.49 267.98 L1886.67 271.80 L1890.49 275.62 L1885.12 280.99 L1881.30 277.17 L1877.48 280.99 L1872.11 275.62 L1875.93 271.80 L1872.11 267.98 L1877.48 262.61 L1881.30 266.43ZM1894.82 262.61 L1900.19 267.98 L1896.37 271.80 L1900.19 275.62 L1894.82 280.99 L1891.00 277.17 L1887.18 280.99 L1881.81 275.62 L1885.63 271.80 L1881.81 267.98 L1887.18 262.61 L1891.00 266.43ZM1876.02 287.91 L1881.39 293.28 L1877.57 297.10 L1881.39 300.92 L1876.02 306.29 L1872.20 302.47 L1868.38 306.29 L1863.01 300.92 L1866.83 297.10 L1863.01 293.28 L1868.38 287.91 L1872.20 291.73ZM1922.52 31.01 L1927.89 36.38 L1924.07 40.20 L1927.89 44.02 L1922.52 49.39 L1918.70 45.57 L1914.88 49.39 L1909.51 44.02 L1913.33 40.20 L1909.51 36.38 L1914.88 31.01 L1918.70 34.83ZM1918.72 62.71 L1924.09 68.08 L1920.27 71.90 L1924.09 75.72 L1918.72 81.09 L1914.90 77.27 L1911.08 81.09 L1905.71 75.72 L1909.53 71.90 L1905.71 68.08 L1911.08 62.71 L1914.90 66.53ZM1900.92 68.81 L1906.29 74.18 L1902.47 78.00 L1906.29 81.82 L1900.92 87.19 L1897.10 83.37 L1893.28 87.19 L1887.91 81.82 L1891.73 78.00 L1887.91 74.18 L1893.28 68.81 L1897.10 72.63ZM1927.82 88.31 L1933.19 93.68 L1929.37 97.50 L1933.19 101.32 L1927.82 106.69 L1924.00 102.87 L1920.18 106.69 L1914.81 101.32 L1918.63 97.50 L1914.81 93.68 L1920.18 88.31 L1924.00 92.13ZM1907.92 99.71 L1913.29 105.08 L1909.47 108.90 L1913.29 112.72 L1907.92 118.09 L1904.10 114.27 L1900.28 118.09 L1894.91 112.72 L1898.73 108.90 L1894.91 105.08 L1900.28 99.71 L1904.10 103.53ZM1913.42 117.81 L1918.79 123.18 L1914.97 127.00 L1918.79 130.82 L1913.42 136.19 L1909.60 132.37 L1905.78 136.19 L1900.41 130.82 L1904.23 127.00 L1900.41 123.18 L1905.78 117.81 L1909.60 121.63ZM1901.72 133.51 L1907.09 138.88 L1903.27 142.70 L1907.09 146.52 L1901.72 151.89 L1897.90 148.07 L1894.08 151.89 L1888.71 146.52 L1892.53 142.70 L1888.71 138.88 L1894.08 133.51 L1897.90 137.33ZM1900.52 158.71 L1905.89 164.08 L1902.07 167.90 L1905.89 171.72 L1900.52 177.09 L1896.70 173.27 L1892.88 177.09 L1887.51 171.72 L1891.33 167.90 L1887.51 164.08 L1892.88 158.71 L1896.70 162.53ZM1909.62 158.71 L1914.99 164.08 L1911.17 167.90 L1914.99 171.72 L1909.62 177.09 L1905.80 173.27 L1901.98 177.09 L1896.61 171.72 L1900.43 167.90 L1896.61 164.08 L1901.98 158.71 L1905.80 162.53ZM1893.32 181.81 L1898.69 187.18 L1894.87 191.00 L1898.69 194.82 L1893.32 200.19 L1889.50 196.37 L1885.68 200.19 L1880.31 194.82 L1884.13 191.00 L1880.31 187.18 L1885.68 181.81 L1889.50 185.63ZM1931.62 170.81 L1936.99 176.18 L1933.17 180.00 L1936.99 183.82 L1931.62 189.19 L1927.80 185.37 L1923.98 189.19 L1918.61 183.82 L1922.43 180.00 L1918.61 176.18 L1923.98 170.81 L1927.80 174.63ZM1932.42 181.01 L1937.79 186.38 L1933.97 190.20 L1937.79 194.02 L1932.42 199.39 L1928.60 195.57 L1924.78 199.39 L1919.41 194.02 L1923.23 190.20 L1919.41 186.38 L1924.78 181.01 L1928.60 184.83ZM1905.82 204.61 L1911.19 209.98 L1907.37 213.80 L1911.19 217.62 L1905.82 222.99 L1902.00 219.17 L1898.18 222.99 L1892.81 217.62 L1896.63 213.80 L1892.81 209.98 L1898.18 204.61 L1902.00 208.43ZM1934.82 202.51 L1940.19 207.88 L1936.37 211.70 L1940.19 215.52 L1934.82 220.89 L1931.00 217.07 L1927.18 220.89 L1921.81 215.52 L1925.63 211.70 L1921.81 207.88 L1927.18 202.51 L1931.00 206.33ZM1931.42 219.01 L1936.79 224.38 L1932.97 228.20 L1936.79 232.02 L1931.42 237.39 L1927.60 233.57 L1923.78 237.39 L1918.41 232.02 L1922.23 228.20 L1918.41 224.38 L1923.78 219.01 L1927.60 222.83ZM1890.82 225.81 L1896.19 231.18 L1892.37 235.00 L1896.19 238.82 L1890.82 244.19 L1887.00 240.37 L1883.18 244.19 L1877.81 238.82 L1881.63 235.00 L1877.81 231.18 L1883.18 225.81 L1887.00 229.63ZM1917.22 228.71 L1922.59 234.08 L1918.77 237.90 L1922.59 241.72 L1917.22 247.09 L1913.40 243.27 L1909.58 247.09 L1904.21 241.72 L1908.03 237.90 L1904.21 234.08 L1909.58 228.71 L1913.40 232.53ZM1907.92 237.01 L1913.29 242.38 L1909.47 246.20 L1913.29 250.02 L1907.92 255.39 L1904.10 251.57 L1900.28 255.39 L1894.91 250.02 L1898.73 246.20 L1894.91 242.38 L1900.28 237.01 L1904.10 240.83ZM1922.72 241.41 L1928.09 246.78 L1924.27 250.60 L1928.09 254.42 L1922.72 259.79 L1918.90 255.97 L1915.08 259.79 L1909.71 254.42 L1913.53 250.60 L1909.71 246.78 L1915.08 241.41 L1918.90 245.23ZM1947.62 246.01 L1952.99 251.38 L1949.17 255.20 L1952.99 259.02 L1947.62 264.39 L1943.80 260.57 L1939.98 264.39 L1934.61 259.02 L1938.43 255.20 L1934.61 251.38 L1939.98 246.01 L1943.80 249.83ZM1936.72 254.11 L1942.09 259.48 L1938.27 263.30 L1942.09 267.12 L1936.72 272.49 L1932.90 268.67 L1929.08 272.49 L1923.71 267.12 L1927.53 263.30 L1923.71 259.48 L1929.08 254.11 L1932.90 257.93ZM1967.92 219.81 L1973.29 225.18 L1969.47 229.00 L1973.29 232.82 L1967.92 238.19 L1964.10 234.37 L1960.28 238.19 L1954.91 232.82 L1958.73 229.00 L1954.91 225.18 L1960.28 219.81 L1964.10 223.63ZM1913.22 262.81 L1918.59 268.18 L1914.77 272.00 L1918.59 275.82 L1913.22 281.19 L1909.40 277.37 L1905.58 281.19 L1900.21 275.82 L1904.03 272.00 L1900.21 268.18 L1905.58 262.81 L1909.40 266.63ZM1933.82 283.51 L1939.19 288.88 L1935.37 292.70 L1939.19 296.52 L1933.82 301.89 L1930.00 298.07 L1926.18 301.89 L1920.81 296.52 L1924.63 292.70 L1920.81 288.88 L1926.18 283.51 L1930.00 287.33ZM1871.12 309.41 L1876.49 314.78 L1872.67 318.60 L1876.49 322.42 L1871.12 327.79 L1867.30 323.97 L1863.48 327.79 L1858.11 322.42 L1861.93 318.60 L1858.11 314.78 L1863.48 309.41 L1867.30 313.23ZM1880.92 320.01 L1886.29 325.38 L1882.47 329.20 L1886.29 333.02 L1880.92 338.39 L1877.10 334.57 L1873.28 338.39 L1867.91 333.02 L1871.73 329.20 L1867.91 325.38 L1873.28 320.01 L1877.10 323.83Z"/>
<rect x="1212.40" y="12.50" width="787.40" height="615.60" fill="none" stroke="#000" stroke-width="2.25" stroke-linejoin="miter"/>
<line x1="1301.25" y1="628.10" x2="1301.25" y2="636.40" stroke="#000" stroke-width="2.25"/>
<text x="1301.25" y="673.20" font-family="'DejaVu Sans', 'Liberation Sans', sans-serif" font-size="36.8" text-anchor="middle">−0.75</text>
<line x1="1421.90" y1="628.10" x2="1421.90" y2="636.40" stroke="#000" stroke-width="2.25"/>
<text x="1421.90" y="673.20" font-family="'DejaVu Sans', 'Liberation Sans', sans-serif" font-size="36.8" text-anchor="middle">−0.50</text>
<line x1="1542.55" y1="628.10" x2="1542.55" y2="636.40" stroke="#000" stroke-width="2.25"/>
<text x="1542.55" y="673.20" font-family="'DejaVu Sans', 'Liberation Sans', sans-serif" font-size="36.8" text-anchor="middle">−0.25</text>
<line x1="1663.20" y1="628.10" x2="1663.20" y2="636.40" stroke="#000" stroke-width="2.25"/>
<text x="1663.20" y="673.20" font-family="'DejaVu Sans', 'Liberation Sans', sans-serif" font-size="36.8" text-anchor="middle">0.00</text>
<line x1="1783.85" y1="628.10" x2="1783.85" y2="636.40" stroke="#000" stroke-width="2.25"/>
<text x="1783.85" y="673.20" font-family="'DejaVu Sans', 'Liberation Sans', sans-serif" font-size="36.8" text-anchor="middle">0.25</text>
<line x1="1904.50" y1="628.10" x2="1904.50" y2="636.40" stroke="#000" stroke-width="2.25"/>
<text x="1904.50" y="673.20" font-family="'DejaVu Sans', 'Liberation Sans', sans-serif" font-size="36.8" text-anchor="middle">0.50</text>
<line x1="1203.40" y1="12.75" x2="1212.40" y2="12.75" stroke="#000" stroke-width="2.25"/>
<text x="1195.60" y="26.65" font-family="'DejaVu Sans', 'Liberation Sans', sans-serif" font-size="36.8" text-anchor="end">10</text>
<line x1="1203.40" y1="95.23" x2="1212.40" y2="95.23" stroke="#000" stroke-width="2.25"/>
<text x="1195.60" y="109.13" font-family="'DejaVu Sans', 'Liberation Sans', sans-serif" font-size="36.8" text-anchor="end">11</text>
<line x1="1203.40" y1="177.71" x2="1212.40" y2="177.71" stroke="#000" stroke-width="2.25"/>
<text x="1195.60" y="191.61" font-family="'DejaVu Sans', 'Liberation Sans', sans-serif" font-size="36.8" text-anchor="end">12</text>
<line x1="1203.40" y1="260.19" x2="1212.40" y2="260.19" stroke="#000" stroke-width="2.25"/>
<text x="1195.60" y="274.09" font-family="'DejaVu Sans', 'Liberation Sans', sans-serif" font-size="36.8" text-anchor="end">13</text>
<line x1="1203.40" y1="342.67" x2="1212.40" y2="342.67" stroke="#000" stroke-width="2.25"/>
<text x="1195.60" y="356.57" font-family="'DejaVu Sans', 'Liberation Sans', sans-serif" font-size="36.8" text-anchor="end">14</text>
<line x1="1203.40" y1="425.15" x2="1212.40" y2="425.15" stroke="#000" stroke-width="2.25"/>
<text x="1195.60" y="439.05" font-family="'DejaVu Sans', 'Liberation Sans', sans-serif" font-size="36.8" text-anchor="end">15</text>
<line x1="1203.40" y1="507.63" x2="1212.40" y2="507.63" stroke="#000" stroke-width="2.25"/>
<text x="1195.60" y="521.53" font-family="'DejaVu Sans', 'Liberation Sans', sans-serif" font-size="36.8" text-anchor="end">16</text>
<line x1="1203.40" y1="590.11" x2="1212.40" y2="590.11" stroke="#000" stroke-width="2.25"/>
<text x="1195.60" y="604.01" font-family="'DejaVu Sans', 'Liberation Sans', sans-serif" font-size="36.8" text-anchor="end">17</text>
<text transform="translate(1533.35,716.90)" font-family="'DejaVu Sans', 'Liberation Sans', sans-serif"><tspan x="0.000" y="0.000" font-size="37" font-style="oblique">m</tspan><tspan x="100.469" y="0.000" font-size="37" font-style="oblique">m</tspan><tspan x="36.042" y="6.070" font-size="25.9" font-style="oblique">R</tspan><tspan x="136.512" y="6.070" font-size="25.9" font-style="oblique">I</tspan><tspan x="62.259" y="0.000" font-size="37">−</tspan></text>
<text transform="translate(1129.50,348.35) rotate(-90)" font-family="'DejaVu Sans', 'Liberation Sans', sans-serif"><tspan x="0.000" y="0.000" font-size="37" font-style="oblique">m</tspan><tspan x="36.042" y="6.070" font-size="25.9" font-style="oblique">R</tspan></text>
<rect x="1230.60" y="30.60" width="284.90" height="119.60" rx="6.2" ry="6.2" fill="#fff" fill-opacity="0.8" stroke="#cccccc" stroke-width="2.6"/>
<path fill="#0000ff" d="M1281.70 50.10 L1290.85 68.90 L1272.55 68.90Z"/>
<path fill="#ff0000" d="M1285.82 104.71 L1291.19 110.08 L1287.37 113.90 L1291.19 117.72 L1285.82 123.09 L1282.00 119.27 L1278.18 123.09 L1272.81 117.72 L1276.63 113.90 L1272.81 110.08 L1278.18 104.71 L1282.00 108.53Z"/>
<text x="1347.30" y="73.40" font-family="'DejaVu Sans', 'Liberation Sans', sans-serif" font-size="36.8">Inst</text>
<text x="1347.30" y="126.90" font-family="'DejaVu Sans', 'Liberation Sans', sans-serif" font-size="36.8">GAIA_SP</text>
<circle cx="178.70" cy="1456.40" r="5.2" fill="#1f77b4"/><circle cx="231.90" cy="1454.10" r="5.2" fill="#1f77b4"/><circle cx="259.50" cy="1381.60" r="5.2" fill="#1f77b4"/><circle cx="301.00" cy="1440.00" r="5.2" fill="#1f77b4"/><circle cx="301.60" cy="1054.60" r="5.2" fill="#1f77b4"/><circle cx="320.50" cy="1126.80" r="5.2" fill="#1f77b4"/><circle cx="356.10" cy="1393.10" r="5.2" fill="#1f77b4"/><circle cx="383.60" cy="1420.90" r="5.2" fill="#1f77b4"/><circle cx="396.70" cy="1373.80" r="5.2" fill="#1f77b4"/><circle cx="400.20" cy="1338.70" r="5.2" fill="#1f77b4"/><circle cx="394.40" cy="1289.30" r="5.2" fill="#1f77b4"/><circle cx="402.00" cy="1283.20" r="5.2" fill="#1f77b4"/><circle cx="410.50" cy="1291.60" r="5.2" fill="#1f77b4"/><circle cx="444.00" cy="1205.60" r="5.2" fill="#1f77b4"/><circle cx="440.40" cy="1106.10" r="5.2" fill="#1f77b4"/><circle cx="431.70" cy="1116.40" r="5.2" fill="#1f77b4"/><circle cx="436.10" cy="1136.30" r="5.2" fill="#1f77b4"/><circle cx="440.30" cy="1139.70" r="5.2" fill="#1f77b4"/><circle cx="451.90" cy="1148.00" r="5.2" fill="#1f77b4"/><circle cx="498.40" cy="1214.90" r="5.2" fill="#1f77b4"/><circle cx="529.60" cy="1075.00" r="5.2" fill="#1f77b4"/><circle cx="540.40" cy="1137.50" r="5.2" fill="#1f77b4"/><circle cx="537.90" cy="1212.50" r="5.2" fill="#1f77b4"/><circle cx="555.80" cy="983.70" r="5.2" fill="#1f77b4"/><circle cx="557.00" cy="1086.00" r="5.2" fill="#1f77b4"/><circle cx="559.00" cy="1249.20" r="5.2" fill="#1f77b4"/><circle cx="567.70" cy="1185.10" r="5.2" fill="#1f77b4"/><circle cx="577.30" cy="1185.70" r="5.2" fill="#1f77b4"/><circle cx="589.40" cy="1193.00" r="5.2" fill="#1f77b4"/><circle cx="570.90" cy="1213.90" r="5.2" fill="#1f77b4"/><circle cx="587.70" cy="1209.90" r="5.2" fill="#1f77b4"/><circle cx="605.60" cy="1221.60" r="5.2" fill="#1f77b4"/><circle cx="582.30" cy="1122.30" r="5.2" fill="#1f77b4"/><circle cx="582.80" cy="1073.60" r="5.2" fill="#1f77b4"/><circle cx="589.90" cy="1015.50" r="5.2" fill="#1f77b4"/><circle cx="597.20" cy="1016.60" r="5.2" fill="#1f77b4"/><circle cx="595.50" cy="1060.30" r="5.2" fill="#1f77b4"/><circle cx="599.20" cy="993.00" r="5.2" fill="#1f77b4"/><circle cx="605.00" cy="1299.00" r="5.2" fill="#1f77b4"/><circle cx="626.60" cy="1144.50" r="5.2" fill="#1f77b4"/><circle cx="628.00" cy="1071.10" r="5.2" fill="#1f77b4"/><circle cx="631.40" cy="1200.20" r="5.2" fill="#1f77b4"/><circle cx="646.20" cy="992.90" r="5.2" fill="#1f77b4"/><circle cx="652.30" cy="1152.00" r="5.2" fill="#1f77b4"/><circle cx="655.80" cy="1175.60" r="5.2" fill="#1f77b4"/><circle cx="667.70" cy="1050.80" r="5.2" fill="#1f77b4"/><circle cx="675.30" cy="1040.70" r="5.2" fill="#1f77b4"/><circle cx="678.40" cy="1093.50" r="5.2" fill="#1f77b4"/><circle cx="687.20" cy="986.10" r="5.2" fill="#1f77b4"/><circle cx="691.10" cy="1030.20" r="5.2" fill="#1f77b4"/><circle cx="691.10" cy="1055.10" r="5.2" fill="#1f77b4"/><circle cx="698.50" cy="896.40" r="5.2" fill="#1f77b4"/><circle cx="712.30" cy="1100.20" r="5.2" fill="#1f77b4"/><circle cx="736.30" cy="1040.70" r="5.2" fill="#1f77b4"/><circle cx="754.40" cy="990.20" r="5.2" fill="#1f77b4"/><circle cx="764.80" cy="978.90" r="5.2" fill="#1f77b4"/><circle cx="777.90" cy="1196.20" r="5.2" fill="#1f77b4"/><circle cx="815.10" cy="1002.70" r="5.2" fill="#1f77b4"/><circle cx="821.30" cy="950.20" r="5.2" fill="#1f77b4"/><circle cx="894.90" cy="1026.80" r="5.2" fill="#1f77b4"/>
<line x1="307.9" y1="1456.8" x2="764.9" y2="896.7" stroke="#ff0000" stroke-width="3.8" stroke-linecap="round"/>
<rect x="143.40" y="868.40" width="787.30" height="616.00" fill="none" stroke="#000" stroke-width="2.25" stroke-linejoin="miter"/>
<line x1="278.20" y1="1484.40" x2="278.20" y2="1492.70" stroke="#000" stroke-width="2.25"/>
<text x="278.20" y="1529.50" font-family="'DejaVu Sans', 'Liberation Sans', sans-serif" font-size="36.8" text-anchor="middle">2.84</text>
<line x1="416.75" y1="1484.40" x2="416.75" y2="1492.70" stroke="#000" stroke-width="2.25"/>
<text x="416.75" y="1529.50" font-family="'DejaVu Sans', 'Liberation Sans', sans-serif" font-size="36.8" text-anchor="middle">2.86</text>
<line x1="555.30" y1="1484.40" x2="555.30" y2="1492.70" stroke="#000" stroke-width="2.25"/>
<text x="555.30" y="1529.50" font-family="'DejaVu Sans', 'Liberation Sans', sans-serif" font-size="36.8" text-anchor="middle">2.88</text>
<line x1="693.85" y1="1484.40" x2="693.85" y2="1492.70" stroke="#000" stroke-width="2.25"/>
<text x="693.85" y="1529.50" font-family="'DejaVu Sans', 'Liberation Sans', sans-serif" font-size="36.8" text-anchor="middle">2.90</text>
<line x1="832.40" y1="1484.40" x2="832.40" y2="1492.70" stroke="#000" stroke-width="2.25"/>
<text x="832.40" y="1529.50" font-family="'DejaVu Sans', 'Liberation Sans', sans-serif" font-size="36.8" text-anchor="middle">2.92</text>
<line x1="134.40" y1="1435.90" x2="143.40" y2="1435.90" stroke="#000" stroke-width="2.25"/>
<text x="126.60" y="1449.80" font-family="'DejaVu Sans', 'Liberation Sans', sans-serif" font-size="36.8" text-anchor="end">0.2</text>
<line x1="134.40" y1="1308.40" x2="143.40" y2="1308.40" stroke="#000" stroke-width="2.25"/>
<text x="126.60" y="1322.30" font-family="'DejaVu Sans', 'Liberation Sans', sans-serif" font-size="36.8" text-anchor="end">0.3</text>
<line x1="134.40" y1="1180.90" x2="143.40" y2="1180.90" stroke="#000" stroke-width="2.25"/>
<text x="126.60" y="1194.80" font-family="'DejaVu Sans', 'Liberation Sans', sans-serif" font-size="36.8" text-anchor="end">0.4</text>
<line x1="134.40" y1="1053.40" x2="143.40" y2="1053.40" stroke="#000" stroke-width="2.25"/>
<text x="126.60" y="1067.30" font-family="'DejaVu Sans', 'Liberation Sans', sans-serif" font-size="36.8" text-anchor="end">0.5</text>
<line x1="134.40" y1="925.90" x2="143.40" y2="925.90" stroke="#000" stroke-width="2.25"/>
<text x="126.60" y="939.80" font-family="'DejaVu Sans', 'Liberation Sans', sans-serif" font-size="36.8" text-anchor="end">0.6</text>
<text transform="translate(365.00,1568.30)" font-family="'DejaVu Sans', 'Liberation Sans', sans-serif"><tspan x="0.000" y="0.000" font-size="37" font-style="oblique">m</tspan><tspan x="159.559" y="0.000" font-size="37" font-style="oblique">m</tspan><tspan x="35.718" y="6.070" font-size="25.9" font-style="oblique">R</tspan><tspan x="66.711" y="6.070" font-size="25.9" font-style="oblique">i</tspan><tspan x="73.842" y="6.070" font-size="25.9" font-style="oblique">n</tspan><tspan x="90.110" y="6.070" font-size="25.9" font-style="oblique">s</tspan><tspan x="103.482" y="6.070" font-size="25.9" font-style="oblique">t</tspan><tspan x="195.277" y="6.070" font-size="25.9" font-style="oblique">R</tspan><tspan x="226.270" y="6.070" font-size="25.9" font-style="oblique">g</tspan><tspan x="242.563" y="6.070" font-size="25.9" font-style="oblique">a</tspan><tspan x="258.291" y="6.070" font-size="25.9" font-style="oblique">i</tspan><tspan x="265.422" y="6.070" font-size="25.9" font-style="oblique">a</tspan><tspan x="312.658" y="6.070" font-size="25.9" font-style="oblique">s</tspan><tspan x="326.030" y="6.070" font-size="25.9" font-style="oblique">p</tspan><tspan x="53.552" y="6.070" font-size="25.9">,</tspan><tspan x="213.111" y="6.070" font-size="25.9">,</tspan><tspan x="286.151" y="6.070" font-size="25.9">−</tspan><tspan x="121.692" y="0.000" font-size="37">−</tspan></text>
<text transform="translate(44.50,1379.30) rotate(-90)" font-family="'DejaVu Sans', 'Liberation Sans', sans-serif"><tspan x="0.000" y="0.000" font-size="37" font-style="oblique">m</tspan><tspan x="229.469" y="0.000" font-size="37" font-style="oblique">m</tspan><tspan x="35.826" y="6.070" font-size="25.9" font-style="oblique">R</tspan><tspan x="66.913" y="6.070" font-size="25.9" font-style="oblique">g</tspan><tspan x="83.255" y="6.070" font-size="25.9" font-style="oblique">a</tspan><tspan x="99.031" y="6.070" font-size="25.9" font-style="oblique">i</tspan><tspan x="106.184" y="6.070" font-size="25.9" font-style="oblique">a</tspan><tspan x="153.563" y="6.070" font-size="25.9" font-style="oblique">s</tspan><tspan x="166.975" y="6.070" font-size="25.9" font-style="oblique">p</tspan><tspan x="265.295" y="6.070" font-size="25.9" font-style="oblique">I</tspan><tspan x="286.087" y="6.070" font-size="25.9" font-style="oblique">g</tspan><tspan x="302.429" y="6.070" font-size="25.9" font-style="oblique">a</tspan><tspan x="318.205" y="6.070" font-size="25.9" font-style="oblique">i</tspan><tspan x="325.358" y="6.070" font-size="25.9" font-style="oblique">a</tspan><tspan x="372.736" y="6.070" font-size="25.9" font-style="oblique">s</tspan><tspan x="386.149" y="6.070" font-size="25.9" font-style="oblique">p</tspan><tspan x="53.714" y="6.070" font-size="25.9">,</tspan><tspan x="126.976" y="6.070" font-size="25.9">−</tspan><tspan x="272.888" y="6.070" font-size="25.9">,</tspan><tspan x="346.150" y="6.070" font-size="25.9">−</tspan><tspan x="191.488" y="0.000" font-size="37">−</tspan></text>
<rect x="161.60" y="887.00" width="169.60" height="64.60" rx="6.2" ry="6.2" fill="#fff" fill-opacity="0.8" stroke="#cccccc" stroke-width="2.6"/>
<line x1="174.2" y1="916.3" x2="251.6" y2="916.3" stroke="#ff0000" stroke-width="4.0"/>
<text x="278.80" y="929.10" font-family="'DejaVu Sans', 'Liberation Sans', sans-serif" font-size="36.8">fit</text>
<circle cx="1248.20" cy="972.40" r="5.2" fill="#1f77b4"/><circle cx="1269.90" cy="1014.00" r="5.2" fill="#1f77b4"/><circle cx="1405.10" cy="1022.70" r="5.2" fill="#1f77b4"/><circle cx="1427.50" cy="1082.20" r="5.2" fill="#1f77b4"/><circle cx="1348.40" cy="1099.80" r="5.2" fill="#1f77b4"/><circle cx="1405.40" cy="1103.90" r="5.2" fill="#1f77b4"/><circle cx="1439.00" cy="1129.50" r="5.2" fill="#1f77b4"/><circle cx="1454.40" cy="1143.00" r="5.2" fill="#1f77b4"/><circle cx="1304.80" cy="1163.50" r="5.2" fill="#1f77b4"/><circle cx="1385.50" cy="1177.20" r="5.2" fill="#1f77b4"/><circle cx="1477.10" cy="1167.30" r="5.2" fill="#1f77b4"/><circle cx="1464.00" cy="1272.60" r="5.2" fill="#1f77b4"/><circle cx="1510.80" cy="1309.80" r="5.2" fill="#1f77b4"/><circle cx="1448.90" cy="1367.70" r="5.2" fill="#1f77b4"/><circle cx="1386.20" cy="1456.30" r="5.2" fill="#1f77b4"/><circle cx="1590.00" cy="1113.80" r="5.2" fill="#1f77b4"/><circle cx="1596.90" cy="1126.60" r="5.2" fill="#1f77b4"/><circle cx="1625.80" cy="1116.60" r="5.2" fill="#1f77b4"/><circle cx="1714.60" cy="1107.60" r="5.2" fill="#1f77b4"/><circle cx="1567.80" cy="1153.30" r="5.2" fill="#1f77b4"/><circle cx="1753.70" cy="1154.00" r="5.2" fill="#1f77b4"/><circle cx="1709.30" cy="1183.00" r="5.2" fill="#1f77b4"/><circle cx="1619.00" cy="1201.10" r="5.2" fill="#1f77b4"/><circle cx="1640.80" cy="1199.50" r="5.2" fill="#1f77b4"/><circle cx="1721.50" cy="1200.60" r="5.2" fill="#1f77b4"/><circle cx="1539.30" cy="1219.40" r="5.2" fill="#1f77b4"/><circle cx="1716.40" cy="1226.20" r="5.2" fill="#1f77b4"/><circle cx="1676.50" cy="1233.70" r="5.2" fill="#1f77b4"/><circle cx="1701.40" cy="1241.20" r="5.2" fill="#1f77b4"/><circle cx="1699.90" cy="1254.00" r="5.2" fill="#1f77b4"/><circle cx="1566.90" cy="1239.20" r="5.2" fill="#1f77b4"/><circle cx="1603.50" cy="1248.20" r="5.2" fill="#1f77b4"/><circle cx="1638.30" cy="1248.20" r="5.2" fill="#1f77b4"/><circle cx="1652.50" cy="1279.20" r="5.2" fill="#1f77b4"/><circle cx="1641.80" cy="1285.70" r="5.2" fill="#1f77b4"/><circle cx="1598.00" cy="1297.30" r="5.2" fill="#1f77b4"/><circle cx="1668.60" cy="1302.60" r="5.2" fill="#1f77b4"/><circle cx="1544.70" cy="1307.80" r="5.2" fill="#1f77b4"/><circle cx="1756.70" cy="1315.50" r="5.2" fill="#1f77b4"/><circle cx="1777.70" cy="896.30" r="5.2" fill="#1f77b4"/><circle cx="1964.10" cy="949.60" r="5.2" fill="#1f77b4"/><circle cx="1833.90" cy="1051.60" r="5.2" fill="#1f77b4"/><circle cx="1834.20" cy="1055.90" r="5.2" fill="#1f77b4"/><circle cx="1844.40" cy="1065.70" r="5.2" fill="#1f77b4"/><circle cx="1889.60" cy="1071.60" r="5.2" fill="#1f77b4"/><circle cx="1769.80" cy="1086.80" r="5.2" fill="#1f77b4"/><circle cx="1773.30" cy="1107.40" r="5.2" fill="#1f77b4"/><circle cx="1765.70" cy="1164.60" r="5.2" fill="#1f77b4"/><circle cx="1802.60" cy="1156.30" r="5.2" fill="#1f77b4"/><circle cx="1840.40" cy="1158.50" r="5.2" fill="#1f77b4"/><circle cx="1772.80" cy="1203.00" r="5.2" fill="#1f77b4"/><circle cx="1767.20" cy="1217.00" r="5.2" fill="#1f77b4"/><circle cx="1909.30" cy="1235.90" r="5.2" fill="#1f77b4"/><circle cx="1852.40" cy="1250.70" r="5.2" fill="#1f77b4"/><circle cx="1773.30" cy="1260.90" r="5.2" fill="#1f77b4"/><circle cx="1788.30" cy="1270.90" r="5.2" fill="#1f77b4"/><circle cx="1944.10" cy="1282.40" r="5.2" fill="#1f77b4"/><circle cx="1843.70" cy="1307.40" r="5.2" fill="#1f77b4"/><circle cx="1830.40" cy="1348.00" r="5.2" fill="#1f77b4"/><circle cx="1814.80" cy="1425.40" r="5.2" fill="#1f77b4"/>
<rect x="1212.40" y="868.40" width="786.60" height="616.00" fill="none" stroke="#000" stroke-width="2.25" stroke-linejoin="miter"/>
<line x1="1354.50" y1="1484.40" x2="1354.50" y2="1492.70" stroke="#000" stroke-width="2.25"/>
<text x="1354.50" y="1529.50" font-family="'DejaVu Sans', 'Liberation Sans', sans-serif" font-size="36.8" text-anchor="middle">14</text>
<line x1="1549.33" y1="1484.40" x2="1549.33" y2="1492.70" stroke="#000" stroke-width="2.25"/>
<text x="1549.33" y="1529.50" font-family="'DejaVu Sans', 'Liberation Sans', sans-serif" font-size="36.8" text-anchor="middle">15</text>
<line x1="1744.16" y1="1484.40" x2="1744.16" y2="1492.70" stroke="#000" stroke-width="2.25"/>
<text x="1744.16" y="1529.50" font-family="'DejaVu Sans', 'Liberation Sans', sans-serif" font-size="36.8" text-anchor="middle">16</text>
<line x1="1938.99" y1="1484.40" x2="1938.99" y2="1492.70" stroke="#000" stroke-width="2.25"/>
<text x="1938.99" y="1529.50" font-family="'DejaVu Sans', 'Liberation Sans', sans-serif" font-size="36.8" text-anchor="middle">17</text>
<line x1="1203.40" y1="1417.30" x2="1212.40" y2="1417.30" stroke="#000" stroke-width="2.25"/>
<text x="1195.60" y="1431.20" font-family="'DejaVu Sans', 'Liberation Sans', sans-serif" font-size="36.8" text-anchor="end">−0.04</text>
<line x1="1203.40" y1="1283.20" x2="1212.40" y2="1283.20" stroke="#000" stroke-width="2.25"/>
<text x="1195.60" y="1297.10" font-family="'DejaVu Sans', 'Liberation Sans', sans-serif" font-size="36.8" text-anchor="end">−0.02</text>
<line x1="1203.40" y1="1149.10" x2="1212.40" y2="1149.10" stroke="#000" stroke-width="2.25"/>
<text x="1195.60" y="1163.00" font-family="'DejaVu Sans', 'Liberation Sans', sans-serif" font-size="36.8" text-anchor="end">0.00</text>
<line x1="1203.40" y1="1015.00" x2="1212.40" y2="1015.00" stroke="#000" stroke-width="2.25"/>
<text x="1195.60" y="1028.90" font-family="'DejaVu Sans', 'Liberation Sans', sans-serif" font-size="36.8" text-anchor="end">0.02</text>
<line x1="1203.40" y1="880.90" x2="1212.40" y2="880.90" stroke="#000" stroke-width="2.25"/>
<text x="1195.60" y="894.80" font-family="'DejaVu Sans', 'Liberation Sans', sans-serif" font-size="36.8" text-anchor="end">0.04</text>
<text transform="translate(1548.15,1571.00)" font-family="'DejaVu Sans', 'Liberation Sans', sans-serif"><tspan x="0.000" y="0.000" font-size="37" font-style="oblique">m</tspan><tspan x="36.042" y="6.070" font-size="25.9" font-style="oblique">R</tspan><tspan x="67.317" y="6.070" font-size="25.9" font-style="oblique">i</tspan><tspan x="74.513" y="6.070" font-size="25.9" font-style="oblique">n</tspan><tspan x="90.928" y="6.070" font-size="25.9" font-style="oblique">s</tspan><tspan x="104.422" y="6.070" font-size="25.9" font-style="oblique">t</tspan><tspan x="54.038" y="6.070" font-size="25.9">,</tspan></text>
<text transform="translate(1059.00,1337.90) rotate(-90)" font-family="'DejaVu Sans', 'Liberation Sans', sans-serif"><tspan x="0.000" y="0.000" font-size="37" font-style="oblique">m</tspan><tspan x="227.853" y="0.000" font-size="37" font-style="oblique">m</tspan><tspan x="35.574" y="6.070" font-size="25.9" font-style="oblique">R</tspan><tspan x="66.442" y="6.070" font-size="25.9" font-style="oblique">g</tspan><tspan x="82.669" y="6.070" font-size="25.9" font-style="oblique">a</tspan><tspan x="98.334" y="6.070" font-size="25.9" font-style="oblique">i</tspan><tspan x="105.436" y="6.070" font-size="25.9" font-style="oblique">a</tspan><tspan x="152.481" y="6.070" font-size="25.9" font-style="oblique">s</tspan><tspan x="165.799" y="6.070" font-size="25.9" font-style="oblique">p</tspan><tspan x="263.427" y="6.070" font-size="25.9" font-style="oblique">R</tspan><tspan x="294.295" y="6.070" font-size="25.9" font-style="oblique">f</tspan><tspan x="303.295" y="6.070" font-size="25.9" font-style="oblique">i</tspan><tspan x="310.397" y="6.070" font-size="25.9" font-style="oblique">t</tspan><tspan x="53.336" y="6.070" font-size="25.9">,</tspan><tspan x="126.081" y="6.070" font-size="25.9">−</tspan><tspan x="281.189" y="6.070" font-size="25.9">,</tspan><tspan x="190.140" y="0.000" font-size="37">−</tspan></text>
<rect x="1230.70" y="887.00" width="323.90" height="64.60" rx="6.2" ry="6.2" fill="#fff" fill-opacity="0.8" stroke="#cccccc" stroke-width="2.6"/>
<circle cx="1282.10" cy="916.50" r="5.2" fill="#1f77b4"/>
<text x="1347.50" y="928.40" font-family="'DejaVu Sans', 'Liberation Sans', sans-serif" font-size="36.8">std=0.016</text>
<text x="539.95" y="790.7" font-family="'Liberation Serif', 'DejaVu Serif', serif" font-size="46" letter-spacing="0.9" text-anchor="middle">(a)</text>
<text x="1608.95" y="790.7" font-family="'Liberation Serif', 'DejaVu Serif', serif" font-size="46" letter-spacing="0.9" text-anchor="middle">(b)</text>
<text x="539.95" y="1646.9" font-family="'Liberation Serif', 'DejaVu Serif', serif" font-size="46" letter-spacing="0.9" text-anchor="middle">(c)</text>
<text x="1608.95" y="1646.9" font-family="'Liberation Serif', 'DejaVu Serif', serif" font-size="46" letter-spacing="0.9" text-anchor="middle">(d)</text>
</svg></body></html>
